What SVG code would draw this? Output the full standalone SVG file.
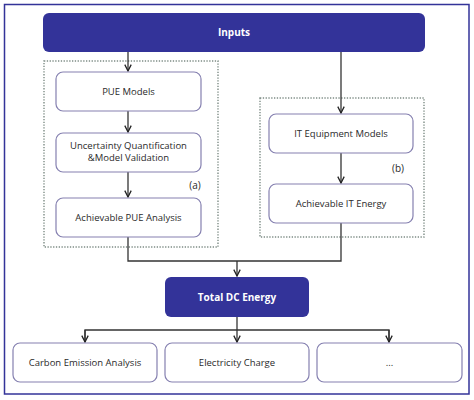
<svg xmlns="http://www.w3.org/2000/svg" width="474" height="400" viewBox="0 0 474 400">
<defs>
<marker id="ah" viewBox="0 0 10 10" refX="9" refY="5" markerWidth="8" markerHeight="8" markerUnits="userSpaceOnUse" orient="auto">
<path d="M1,1 L9,5 L1,9" fill="none" stroke="#222" stroke-width="1.6"/>
</marker>
<style>
.box{fill:#fff;stroke:#8580b0;stroke-width:1.2}
.dark{fill:#333399;stroke:none}
.grp{fill:none;stroke:#7d8c85;stroke-width:1.4;stroke-dasharray:1.3 1.5}
.t{font-family:"Open Sans","Noto Sans",sans-serif;font-size:9.5px;fill:#2a2a2a;text-anchor:middle}
.lbl{font-family:"Open Sans","Noto Sans",sans-serif;font-size:10px;fill:#2a2a2a;text-anchor:middle}
.tw{font-family:"Open Sans","Noto Sans",sans-serif;font-size:10px;font-weight:bold;fill:#fff;text-anchor:middle}
.c{fill:none;stroke:#333;stroke-width:1.3}
</style>
</defs>
<rect x="0" y="0" width="474" height="400" fill="#fff"/>
<rect x="4.5" y="4.5" width="464.5" height="389.5" fill="none" stroke="#333399" stroke-width="1.5"/>
<rect class="grp" x="44" y="61" width="174" height="186"/>
<rect class="grp" x="260" y="98" width="164" height="139"/>
<g id="connectors">
<path class="c" d="M128,52 V71" marker-end="url(#ah)"/>
<path class="c" d="M128,111 V132" marker-end="url(#ah)"/>
<path class="c" d="M128,172 V197" marker-end="url(#ah)"/>
<path class="c" d="M341,52 V113" marker-end="url(#ah)"/>
<path class="c" d="M341,153 V183" marker-end="url(#ah)"/>
<path class="c" d="M128,237 V261 H341 V223"/>
<path class="c" d="M237,261 V276" marker-end="url(#ah)"/>
<path class="c" d="M237,317 V330"/>
<path class="c" d="M85,342 V330 H389 V342"/>
<path class="c" d="M85,330 V342" marker-end="url(#ah)"/>
<path class="c" d="M237,330 V342" marker-end="url(#ah)"/>
<path class="c" d="M389,330 V342" marker-end="url(#ah)"/>
</g>
<g id="inputs"><rect class="dark" x="43" y="13" width="382" height="39" rx="6"/><text class="tw" x="234" y="36">Inputs</text></g>
<g id="pue-models"><rect class="box" x="56" y="72" width="145" height="39" rx="7"/><text class="t" x="128.5" y="95">PUE Models</text></g>
<g id="uncertainty"><rect class="box" x="56" y="133" width="145" height="39" rx="7"/><text class="t" x="128.5" y="149">Uncertainty Quantification</text><text class="t" x="128.5" y="161">&amp;Model Validation</text></g>
<g id="label-a"><text class="lbl" x="195" y="189">(a)</text></g>
<g id="achievable-pue"><rect class="box" x="56" y="198" width="145" height="39" rx="7"/><text class="t" x="128.5" y="221">Achievable PUE Analysis</text></g>
<g id="it-models"><rect class="box" x="269" y="114" width="144" height="39" rx="7"/><text class="t" x="341" y="137">IT Equipment Models</text></g>
<g id="label-b"><text class="lbl" x="398" y="172">(b)</text></g>
<g id="achievable-it"><rect class="box" x="269" y="184" width="144" height="39" rx="7"/><text class="t" x="341" y="207">Achievable IT Energy</text></g>
<g id="total-dc"><rect class="dark" x="165" y="277" width="144" height="40" rx="6"/><text class="tw" x="237" y="301">Total DC Energy</text></g>
<g id="carbon"><rect class="box" x="13" y="343" width="144" height="39" rx="7"/><text class="t" x="85" y="366">Carbon Emission Analysis</text></g>
<g id="electricity"><rect class="box" x="165" y="343" width="144" height="39" rx="7"/><text class="t" x="237" y="366">Electricity Charge</text></g>
<g id="etc"><rect class="box" x="317" y="343" width="145" height="39" rx="7"/><text class="t" x="389.5" y="366">...</text></g>
</svg>
